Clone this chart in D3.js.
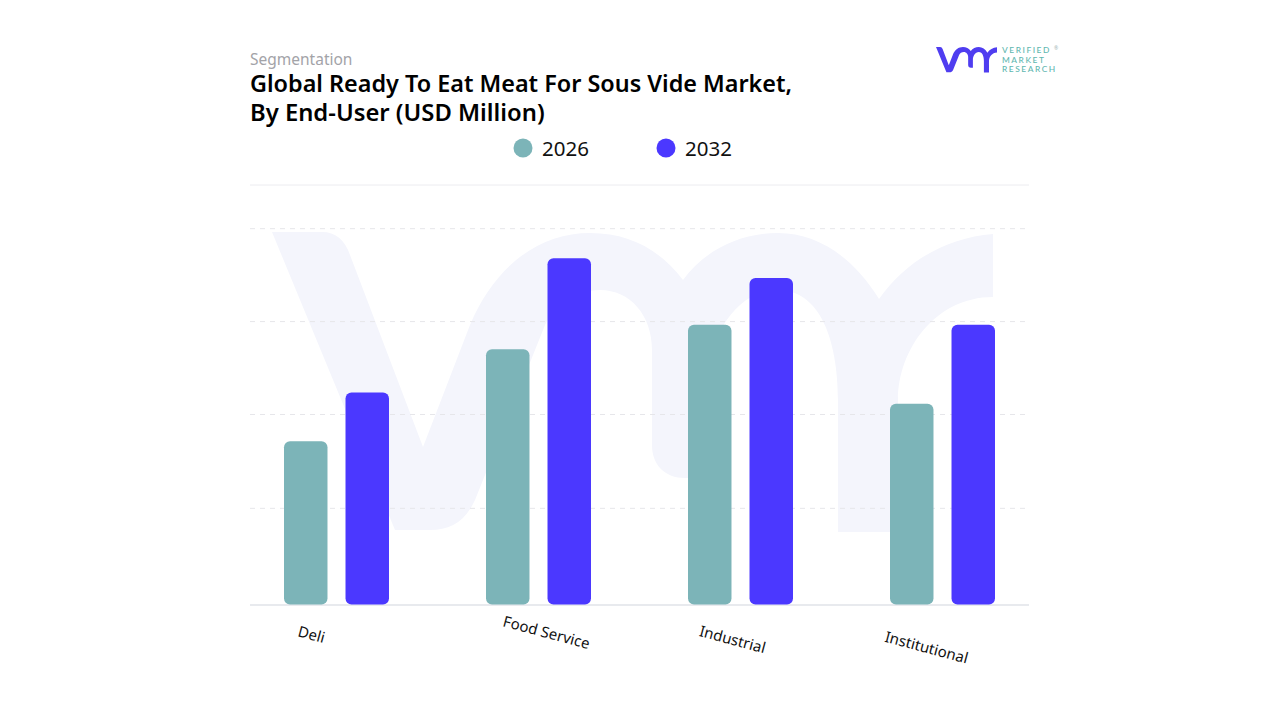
<!DOCTYPE html>
<html lang="en">
<head>
<meta charset="UTF-8">
<title>Global Ready To Eat Meat For Sous Vide Market</title>
<style>
    html, body { margin: 0; background: #fff; }
    svg { display: block; font-family: "Noto Sans", sans-serif; }
</style>
</head>
<body>
<svg width="1280" height="720"></svg>
<script src="https://d3js.org/d3.v7.min.js"></script>
<script>
    // values, the chart has no value axis so the unit is estimated
    const categories = ["Deli", "Food Service", "Industrial", "Institutional"];
    const years = ["2026", "2032"];
    const values2026 = [174, 272, 298, 214];
    const values2032 = [226, 369, 348, 298];
    const gridTicks = [103, 203, 302, 401];
    const axisMax = 447;

    const colors = {"2026": "#7cb4b8", "2032": "#4b38ff"};
    const seriesValues = {"2026": values2026, "2032": values2032};

    const svg = d3.select("svg");
    const plotLeft = 250, plotRight = 1029, plotBottom = 604.5, plotTop = 185;

    // vmr mark, same outline for the watermark and the logo
    const markPath = "M272 232 L322 232 Q342 232 350 255 L423 447 L470 325 C495 265 540 233 590 233 " +
        "C630 233 660 250 683 280 C705 250 740 233 778 233 C820 233 855 260 879 299 " +
        "C905 262 945 238 993 234 L993 297 C935 297 898 350 898 400 L898 532 L838 532 L838 400 " +
        "C838 340 820 290 778 290 C735 290 708 340 708 380 L708 478 L685 478 C665 478 652 465 652 445 " +
        "L652 350 C652 315 630 290 600 290 C575 290 555 305 545 325 L475 500 C465 522 450 530 430 530 L395 530 Z";

    svg.append("path").attr("d", markPath).attr("fill", "#f4f5fc");

    const x = d3.scaleBand().domain(categories).range([235.5, 1043.5]);
    const xInner = d3.scaleBand().domain(years).range([-52.5, 52.5]).paddingInner(0.293);
    const y = d3.scaleLinear().domain([0, axisMax]).range([plotBottom, plotTop]);

    // grid
    svg.append("g")
        .attr("transform", `translate(${plotLeft},0)`)
        .call(d3.axisLeft(y).tickValues(gridTicks).tickSize(-(plotRight - plotLeft)).tickFormat(""))
        .call(g => g.select(".domain").remove())
        .call(g => g.selectAll("line")
            .attr("stroke", "#e6e6ea")
            .attr("stroke-dasharray", "5 5"));

    svg.append("line")
        .attr("x1", plotLeft).attr("x2", plotRight)
        .attr("y1", y(axisMax)).attr("y2", y(axisMax))
        .attr("stroke", "#ececf0");

    svg.append("line")
        .attr("x1", plotLeft).attr("x2", plotRight)
        .attr("y1", plotBottom + 0.5).attr("y2", plotBottom + 0.5)
        .attr("stroke", "#e8eaee").attr("stroke-width", 2);

    // bars
    const groups = svg.append("g").selectAll("g")
        .data(categories)
        .join("g")
        .attr("transform", d => `translate(${x(d) + x.bandwidth() / 2},0)`);

    groups.selectAll("rect")
        .data((d, i) => years.map(yr => ({year: yr, value: seriesValues[yr][i]})))
        .join("rect")
        .attr("x", d => xInner(d.year))
        .attr("y", d => y(d.value))
        .attr("width", xInner.bandwidth())
        .attr("height", d => y(0) - y(d.value))
        .attr("rx", 6)
        .attr("fill", d => colors[d.year]);

    // x axis, the labels sit at uneven places in the reference
    const labelShift = {
        "Deli": [-25, 30],
        "Food Service": [8, 28],
        "Industrial": [-8, 35],
        "Institutional": [-16, 43]
    };
    svg.append("g")
        .attr("transform", `translate(0,${plotBottom})`)
        .call(d3.axisBottom(x).tickSize(0))
        .call(g => g.attr("font-family", null))
        .call(g => g.select(".domain").remove())
        .call(g => g.selectAll("text")
            .attr("x", 0).attr("y", 0).attr("dy", "0.35em")
            .attr("text-anchor", "middle")
            .attr("font-size", 15)
            .attr("fill", "#111")
            .attr("transform", d => `translate(${labelShift[d][0]},${labelShift[d][1]}) rotate(15)`));

    // heading
    svg.append("text").attr("x", 250).attr("y", 65)
        .attr("font-size", 15.5).attr("fill", "#a3a3a8").text("Segmentation");
    svg.append("text").attr("x", 250).attr("y", 92)
        .attr("font-size", 23.4).attr("font-weight", 600).attr("fill", "#000")
        .text("Global Ready To Eat Meat For Sous Vide Market,");
    svg.append("text").attr("x", 250).attr("y", 121)
        .attr("font-size", 23.8).attr("font-weight", 600).attr("fill", "#000")
        .text("By End-User (USD Million)");

    // legend
    const legend = svg.append("g").selectAll("g")
        .data(years)
        .join("g")
        .attr("transform", (d, i) => `translate(${523 + i * 143},148)`);
    legend.append("circle").attr("r", 9.5).attr("fill", d => colors[d]);
    legend.append("text")
        .attr("x", 19).attr("dy", "0.4em")
        .attr("font-size", 20.5).attr("fill", "#111")
        .text(d => d);

    // logo
    svg.append("path")
        .attr("d", markPath)
        .attr("fill", "#4f3df0")
        .attr("transform", "translate(913,27.4) scale(0.0846)");
    const logoLines = ["VERIFIED", "MARKET", "RESEARCH"];
    svg.append("g").selectAll("text")
        .data(logoLines)
        .join("text")
        .attr("x", 1002)
        .attr("y", (d, i) => 53 + i * 9.5)
        .attr("font-family", "Lato")
        .attr("font-size", 8.4)
        .attr("font-weight", 500)
        .attr("letter-spacing", 1.55)
        .attr("fill", "#5fb7b0")
        .text(d => d);
    svg.append("text").attr("x", 1054).attr("y", 50)
        .attr("font-size", 5).attr("fill", "#9fb8b6").text("®");
</script>
</body>
</html>
